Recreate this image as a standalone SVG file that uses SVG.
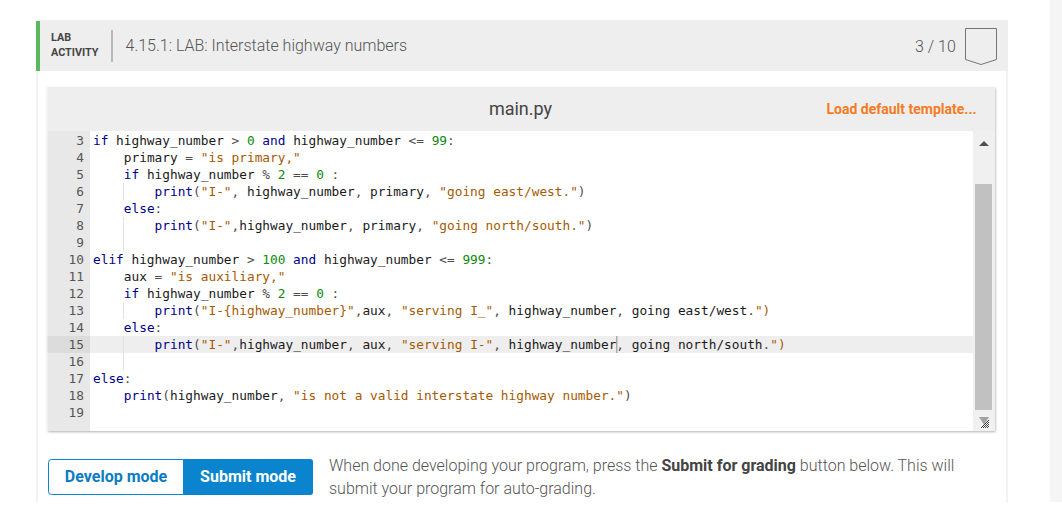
<svg xmlns="http://www.w3.org/2000/svg" width="1062" height="520" viewBox="0 0 1062 520">
<defs>
<filter id="sh" x="-2%" y="-2%" width="104%" height="104%"><feDropShadow dx="0.500" dy="1" stdDeviation="0.800" flood-color="#000" flood-opacity="0.3"/></filter>
<pattern id="grip" width="2" height="2" patternUnits="userSpaceOnUse"><rect width="1" height="1" fill="#444"/><rect x="1" y="1" width="1" height="1" fill="#444"/></pattern>
</defs>
<style>
text{font-family:Roboto,"Liberation Sans",sans-serif}
.code{font-family:"DejaVu Sans Mono","Liberation Mono",monospace;font-size:12.79px;fill:#4d4d4d;white-space:pre}
.k{fill:#00008b}.s{fill:#a65a00}.n{fill:#0a8a0a}.v{fill:#1a1a1a}
.ln{font-family:"DejaVu Sans Mono","Liberation Mono",monospace;font-size:12.79px;fill:#555;text-anchor:end}
.guide{stroke:#e2e2e2;stroke-width:1}
.light{font-weight:300;fill:#555;font-size:16px}
</style>
<rect width="1062" height="520" fill="#fff"/>
<rect x="1050" y="0" width="12" height="502" fill="#f5f5f5"/>
<g id="card">
<rect x="36" y="20" width="972" height="483" fill="#f3f3f3"/>
<rect x="38" y="71" width="968" height="432" fill="#fff"/>
<rect x="36" y="20" width="972" height="51" fill="#eee"/>
<rect x="36" y="21" width="4" height="50" fill="#5cb85c"/>
<rect x="111" y="30" width="2" height="32" fill="#b9b9b9"/>
<text x="51" y="41" font-size="10.800" font-weight="700" fill="#444">LAB</text>
<text x="51" y="56" font-size="10.800" font-weight="700" fill="#444">ACTIVITY</text>
<text x="125.500" y="51" class="light">4.15.1: LAB: Interstate highway numbers</text>
<text x="915" y="52" class="light">3 / 10</text>
<path d="M965.500 28.500H996.500V59.500L981 64.500L965.500 59.500Z" fill="none" stroke="#757575" stroke-width="1"/>
</g>
<g id="editor">
<rect x="47.500" y="87" width="947.500" height="344" fill="#fff" filter="url(#sh)"/>
<rect x="47.500" y="87" width="947.500" height="44" fill="#eee"/>
<text x="520.500" y="115" font-size="18" fill="#444" text-anchor="middle">main.py</text>
<text x="826.500" y="114" font-size="14" font-weight="700" fill="#f57c1f">Load default template...</text>
<rect x="47.500" y="131" width="42.500" height="300" fill="#e8e8e8"/>
<rect x="90" y="336" width="883" height="17" fill="#eee"/>
<rect x="47.500" y="336" width="42.500" height="17" fill="#dcdcdc"/>
<rect x="973" y="131" width="22" height="300" fill="#f0f0f0"/>
<rect x="975" y="184" width="17" height="226" fill="#c1c1c1"/>
<path d="M979 146L984 141L989 146Z" fill="#505050"/>
<path d="M979 417H989L984 425Z" fill="#a3a3a3"/>
<path d="M989 419V428H980Z" fill="url(#grip)"/>
<line class="guide" x1="123.500" y1="183" x2="123.500" y2="200"/>
<line class="guide" x1="123.500" y1="217" x2="123.500" y2="251"/>
<line class="guide" x1="123.500" y1="302" x2="123.500" y2="319"/>
<line class="guide" x1="123.500" y1="336" x2="123.500" y2="370"/>
<rect x="616" y="336" width="1.500" height="17" fill="#aaa"/>
</g>
<g id="line-numbers">
<text class="ln" x="84" y="145">3</text><text class="ln" x="84" y="162">4</text><text class="ln" x="84" y="179">5</text><text class="ln" x="84" y="196">6</text><text class="ln" x="84" y="213">7</text><text class="ln" x="84" y="230">8</text><text class="ln" x="84" y="247">9</text><text class="ln" x="84" y="264">10</text><text class="ln" x="84" y="281">11</text><text class="ln" x="84" y="298">12</text><text class="ln" x="84" y="315">13</text><text class="ln" x="84" y="332">14</text><text class="ln" x="84" y="349">15</text><text class="ln" x="84" y="366">16</text><text class="ln" x="84" y="383">17</text><text class="ln" x="84" y="400">18</text><text class="ln" x="84" y="417">19</text>
</g>
<g id="code">
<text class="code" x="93" y="145"><tspan class="k">if</tspan> <tspan class="v">highway_number</tspan> &gt; <tspan class="n">0</tspan> <tspan class="k">and</tspan> <tspan class="v">highway_number</tspan> &lt;= <tspan class="n">99</tspan>:</text>
<text class="code" x="123.800" y="162"><tspan class="v">primary</tspan> = <tspan class="s">"is primary,"</tspan></text>
<text class="code" x="123.800" y="179"><tspan class="k">if</tspan> <tspan class="v">highway_number</tspan> % <tspan class="n">2</tspan> == <tspan class="n">0</tspan> :</text>
<text class="code" x="154.600" y="196"><tspan class="k">print</tspan>(<tspan class="s">"I-"</tspan>, <tspan class="v">highway_number</tspan>, <tspan class="v">primary</tspan>, <tspan class="s">"going east/west."</tspan>)</text>
<text class="code" x="123.800" y="213"><tspan class="k">else</tspan>:</text>
<text class="code" x="154.600" y="230"><tspan class="k">print</tspan>(<tspan class="s">"I-"</tspan>,<tspan class="v">highway_number</tspan>, <tspan class="v">primary</tspan>, <tspan class="s">"going north/south."</tspan>)</text>
<text class="code" x="93" y="264"><tspan class="k">elif</tspan> <tspan class="v">highway_number</tspan> &gt; <tspan class="n">100</tspan> <tspan class="k">and</tspan> <tspan class="v">highway_number</tspan> &lt;= <tspan class="n">999</tspan>:</text>
<text class="code" x="123.800" y="281"><tspan class="v">aux</tspan> = <tspan class="s">"is auxiliary,"</tspan></text>
<text class="code" x="123.800" y="298"><tspan class="k">if</tspan> <tspan class="v">highway_number</tspan> % <tspan class="n">2</tspan> == <tspan class="n">0</tspan> :</text>
<text class="code" x="154.600" y="315"><tspan class="k">print</tspan>(<tspan class="s">"I-{highway_number}"</tspan>,<tspan class="v">aux</tspan>, <tspan class="s">"serving I_"</tspan>, <tspan class="v">highway_number</tspan>, <tspan class="v">going east/west</tspan>.<tspan class="s">")</tspan></text>
<text class="code" x="123.800" y="332"><tspan class="k">else</tspan>:</text>
<text class="code" x="154.600" y="349"><tspan class="k">print</tspan>(<tspan class="s">"I-"</tspan>,<tspan class="v">highway_number</tspan>, <tspan class="v">aux</tspan>, <tspan class="s">"serving I-"</tspan>, <tspan class="v">highway_number</tspan>, <tspan class="v">going north/south</tspan>.<tspan class="s">")</tspan></text>
<text class="code" x="93" y="383"><tspan class="k">else</tspan>:</text>
<text class="code" x="123.800" y="400"><tspan class="k">print</tspan>(<tspan class="v">highway_number</tspan>, <tspan class="s">"is not a valid interstate highway number."</tspan>)</text>
</g>
<g id="mode-toggle">
<rect x="48.500" y="459.500" width="264" height="35" rx="3" fill="#fff" stroke="#0a84ce"/>
<path d="M183 459H310a3 3 0 0 1 3 3V492a3 3 0 0 1-3 3H183Z" fill="#0a84ce"/>
<text x="116" y="482" font-size="16" font-weight="700" fill="#0a7cc4" text-anchor="middle">Develop mode</text>
<text x="248" y="482" font-size="16" font-weight="700" fill="#fff" text-anchor="middle">Submit mode</text>
</g>
<g id="hint">
<text x="329" y="471" class="light">When done developing your program, press the <tspan font-weight="700" fill="#444">Submit for grading</tspan> button below. This will</text>
<text x="329" y="494" class="light">submit your program for auto-grading.</text>
</g>
<rect x="0" y="503" width="1062" height="17" fill="#fff"/>
</svg>
